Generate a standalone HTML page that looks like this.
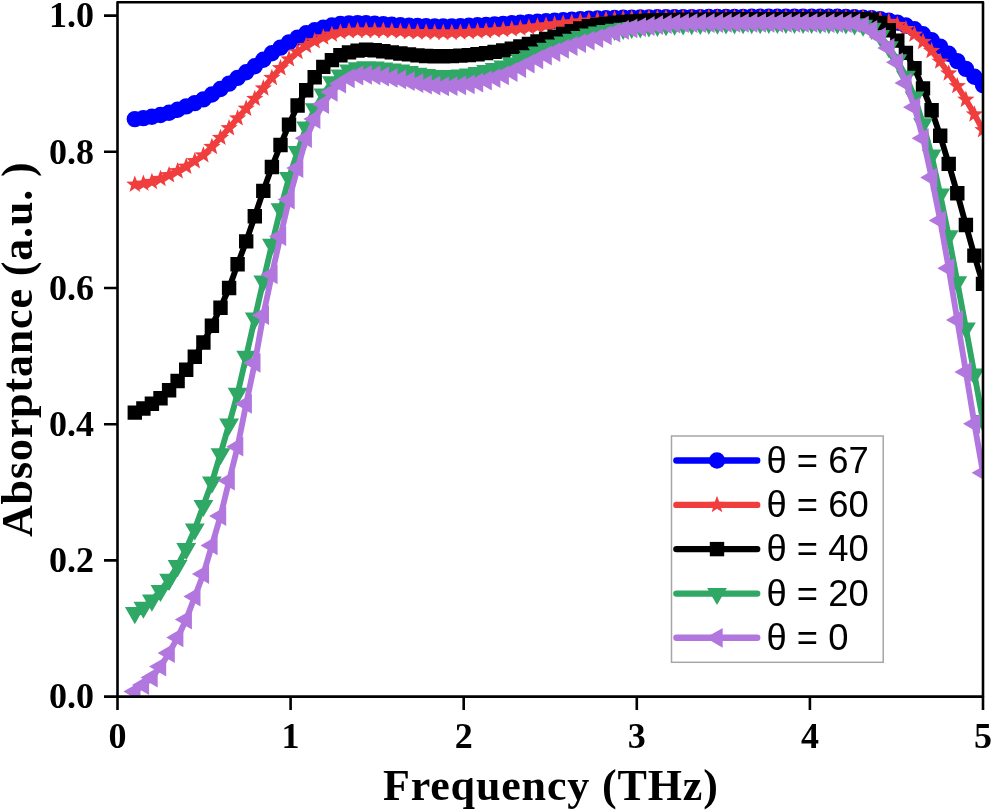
<!DOCTYPE html>
<html lang="en"><head><meta charset="utf-8"><title>Absorptance vs Frequency</title>
<style>
html,body{margin:0;padding:0;background:#fff;}
body{width:991px;height:812px;overflow:hidden;}
svg{display:block;}
.tk{font-family:"Liberation Serif","Times New Roman",serif;font-weight:bold;font-size:36px;fill:#000;}
.ax{font-family:"Liberation Serif","Times New Roman",serif;font-weight:bold;font-size:44px;letter-spacing:0.85px;fill:#000;}
.lg{font-family:"Liberation Sans",Arial,sans-serif;font-size:36.4px;fill:#000;}
</style></head><body>
<svg width="991" height="812" viewBox="0 0 991 812">
<rect width="991" height="812" fill="#fff"/>
<defs><clipPath id="plot"><rect x="117.5" y="2.3" width="865.5" height="694.3000000000001"/></clipPath></defs>
<g clip-path="url(#plot)">
<polyline fill="none" stroke="#0000ff" stroke-width="5.9" stroke-linejoin="round" stroke-linecap="round" points="134.8,119.1 143.4,118.1 151.9,116.8 160.5,115 169.1,112.7 177.6,109.8 186.2,106.4 194.8,103.1 203.4,99.4 211.9,94.5 220.5,89 229.1,83.6 237.6,77.9 246.2,72.2 254.8,66.2 263.3,59.8 271.9,53.3 280.5,47.6 289,42.4 297.6,37.6 306.2,33.3 314.7,30.2 323.3,27.7 331.9,25.5 340.4,24 349,23.4 357.6,23.1 366.1,23.2 374.7,23.7 383.3,24.1 391.8,24.7 400.4,25.3 409,25.7 417.5,26 426.1,26.2 434.7,26.4 443.2,26.5 451.8,26.4 460.4,26.2 468.9,25.8 477.5,25.3 486.1,24.9 494.6,24.4 503.2,23.9 511.8,23.3 520.4,22.8 528.9,22.3 537.5,21.8 546.1,21.3 554.6,20.8 563.2,20.3 571.8,19.8 580.3,19.3 588.9,18.8 597.5,18.5 606,18.2 614.6,18 623.2,17.8 631.7,17.6 640.3,17.5 648.9,17.4 657.4,17.3 666,17.2 674.6,17.2 683.1,17.1 691.7,17.1 700.3,17.1 708.8,17 717.4,17 726,17 734.5,16.9 743.1,16.9 751.7,16.8 760.2,16.8 768.8,16.7 777.4,16.7 785.9,16.7 794.5,16.6 803.1,16.6 811.6,16.6 820.2,16.7 828.8,16.7 837.4,16.8 845.9,17 854.5,17.3 863.1,17.7 871.6,18.3 880.2,19.1 888.8,20.6 897.3,22.6 905.9,25.5 914.5,29.2 923,34.2 931.6,40.1 940.2,46.6 948.7,53.7 957.3,61.1 965.9,68.9 974.4,76.8 983,85.1"/>
<path fill="#0000ff" d="M126.6 119.1a8.2 8.2 0 1 0 16.4 0a8.2 8.2 0 1 0 -16.4 0zM135.2 118.1a8.2 8.2 0 1 0 16.4 0a8.2 8.2 0 1 0 -16.4 0zM143.7 116.8a8.2 8.2 0 1 0 16.4 0a8.2 8.2 0 1 0 -16.4 0zM152.3 115a8.2 8.2 0 1 0 16.4 0a8.2 8.2 0 1 0 -16.4 0zM160.9 112.7a8.2 8.2 0 1 0 16.4 0a8.2 8.2 0 1 0 -16.4 0zM169.4 109.8a8.2 8.2 0 1 0 16.4 0a8.2 8.2 0 1 0 -16.4 0zM178 106.4a8.2 8.2 0 1 0 16.4 0a8.2 8.2 0 1 0 -16.4 0zM186.6 103.1a8.2 8.2 0 1 0 16.4 0a8.2 8.2 0 1 0 -16.4 0zM195.2 99.4a8.2 8.2 0 1 0 16.4 0a8.2 8.2 0 1 0 -16.4 0zM203.7 94.5a8.2 8.2 0 1 0 16.4 0a8.2 8.2 0 1 0 -16.4 0zM212.3 89a8.2 8.2 0 1 0 16.4 0a8.2 8.2 0 1 0 -16.4 0zM220.9 83.6a8.2 8.2 0 1 0 16.4 0a8.2 8.2 0 1 0 -16.4 0zM229.4 77.9a8.2 8.2 0 1 0 16.4 0a8.2 8.2 0 1 0 -16.4 0zM238 72.2a8.2 8.2 0 1 0 16.4 0a8.2 8.2 0 1 0 -16.4 0zM246.6 66.2a8.2 8.2 0 1 0 16.4 0a8.2 8.2 0 1 0 -16.4 0zM255.1 59.8a8.2 8.2 0 1 0 16.4 0a8.2 8.2 0 1 0 -16.4 0zM263.7 53.3a8.2 8.2 0 1 0 16.4 0a8.2 8.2 0 1 0 -16.4 0zM272.3 47.6a8.2 8.2 0 1 0 16.4 0a8.2 8.2 0 1 0 -16.4 0zM280.8 42.4a8.2 8.2 0 1 0 16.4 0a8.2 8.2 0 1 0 -16.4 0zM289.4 37.6a8.2 8.2 0 1 0 16.4 0a8.2 8.2 0 1 0 -16.4 0zM298 33.3a8.2 8.2 0 1 0 16.4 0a8.2 8.2 0 1 0 -16.4 0zM306.5 30.2a8.2 8.2 0 1 0 16.4 0a8.2 8.2 0 1 0 -16.4 0zM315.1 27.7a8.2 8.2 0 1 0 16.4 0a8.2 8.2 0 1 0 -16.4 0zM323.7 25.5a8.2 8.2 0 1 0 16.4 0a8.2 8.2 0 1 0 -16.4 0zM332.2 24a8.2 8.2 0 1 0 16.4 0a8.2 8.2 0 1 0 -16.4 0zM340.8 23.4a8.2 8.2 0 1 0 16.4 0a8.2 8.2 0 1 0 -16.4 0zM349.4 23.1a8.2 8.2 0 1 0 16.4 0a8.2 8.2 0 1 0 -16.4 0zM357.9 23.2a8.2 8.2 0 1 0 16.4 0a8.2 8.2 0 1 0 -16.4 0zM366.5 23.7a8.2 8.2 0 1 0 16.4 0a8.2 8.2 0 1 0 -16.4 0zM375.1 24.1a8.2 8.2 0 1 0 16.4 0a8.2 8.2 0 1 0 -16.4 0zM383.6 24.7a8.2 8.2 0 1 0 16.4 0a8.2 8.2 0 1 0 -16.4 0zM392.2 25.3a8.2 8.2 0 1 0 16.4 0a8.2 8.2 0 1 0 -16.4 0zM400.8 25.7a8.2 8.2 0 1 0 16.4 0a8.2 8.2 0 1 0 -16.4 0zM409.3 26a8.2 8.2 0 1 0 16.4 0a8.2 8.2 0 1 0 -16.4 0zM417.9 26.2a8.2 8.2 0 1 0 16.4 0a8.2 8.2 0 1 0 -16.4 0zM426.5 26.4a8.2 8.2 0 1 0 16.4 0a8.2 8.2 0 1 0 -16.4 0zM435 26.5a8.2 8.2 0 1 0 16.4 0a8.2 8.2 0 1 0 -16.4 0zM443.6 26.4a8.2 8.2 0 1 0 16.4 0a8.2 8.2 0 1 0 -16.4 0zM452.2 26.2a8.2 8.2 0 1 0 16.4 0a8.2 8.2 0 1 0 -16.4 0zM460.7 25.8a8.2 8.2 0 1 0 16.4 0a8.2 8.2 0 1 0 -16.4 0zM469.3 25.3a8.2 8.2 0 1 0 16.4 0a8.2 8.2 0 1 0 -16.4 0zM477.9 24.9a8.2 8.2 0 1 0 16.4 0a8.2 8.2 0 1 0 -16.4 0zM486.4 24.4a8.2 8.2 0 1 0 16.4 0a8.2 8.2 0 1 0 -16.4 0zM495 23.9a8.2 8.2 0 1 0 16.4 0a8.2 8.2 0 1 0 -16.4 0zM503.6 23.3a8.2 8.2 0 1 0 16.4 0a8.2 8.2 0 1 0 -16.4 0zM512.2 22.8a8.2 8.2 0 1 0 16.4 0a8.2 8.2 0 1 0 -16.4 0zM520.7 22.3a8.2 8.2 0 1 0 16.4 0a8.2 8.2 0 1 0 -16.4 0zM529.3 21.8a8.2 8.2 0 1 0 16.4 0a8.2 8.2 0 1 0 -16.4 0zM537.9 21.3a8.2 8.2 0 1 0 16.4 0a8.2 8.2 0 1 0 -16.4 0zM546.4 20.8a8.2 8.2 0 1 0 16.4 0a8.2 8.2 0 1 0 -16.4 0zM555 20.3a8.2 8.2 0 1 0 16.4 0a8.2 8.2 0 1 0 -16.4 0zM563.6 19.8a8.2 8.2 0 1 0 16.4 0a8.2 8.2 0 1 0 -16.4 0zM572.1 19.3a8.2 8.2 0 1 0 16.4 0a8.2 8.2 0 1 0 -16.4 0zM580.7 18.8a8.2 8.2 0 1 0 16.4 0a8.2 8.2 0 1 0 -16.4 0zM589.3 18.5a8.2 8.2 0 1 0 16.4 0a8.2 8.2 0 1 0 -16.4 0zM597.8 18.2a8.2 8.2 0 1 0 16.4 0a8.2 8.2 0 1 0 -16.4 0zM606.4 18a8.2 8.2 0 1 0 16.4 0a8.2 8.2 0 1 0 -16.4 0zM615 17.8a8.2 8.2 0 1 0 16.4 0a8.2 8.2 0 1 0 -16.4 0zM623.5 17.6a8.2 8.2 0 1 0 16.4 0a8.2 8.2 0 1 0 -16.4 0zM632.1 17.5a8.2 8.2 0 1 0 16.4 0a8.2 8.2 0 1 0 -16.4 0zM640.7 17.4a8.2 8.2 0 1 0 16.4 0a8.2 8.2 0 1 0 -16.4 0zM649.2 17.3a8.2 8.2 0 1 0 16.4 0a8.2 8.2 0 1 0 -16.4 0zM657.8 17.2a8.2 8.2 0 1 0 16.4 0a8.2 8.2 0 1 0 -16.4 0zM666.4 17.2a8.2 8.2 0 1 0 16.4 0a8.2 8.2 0 1 0 -16.4 0zM674.9 17.1a8.2 8.2 0 1 0 16.4 0a8.2 8.2 0 1 0 -16.4 0zM683.5 17.1a8.2 8.2 0 1 0 16.4 0a8.2 8.2 0 1 0 -16.4 0zM692.1 17.1a8.2 8.2 0 1 0 16.4 0a8.2 8.2 0 1 0 -16.4 0zM700.6 17a8.2 8.2 0 1 0 16.4 0a8.2 8.2 0 1 0 -16.4 0zM709.2 17a8.2 8.2 0 1 0 16.4 0a8.2 8.2 0 1 0 -16.4 0zM717.8 17a8.2 8.2 0 1 0 16.4 0a8.2 8.2 0 1 0 -16.4 0zM726.3 16.9a8.2 8.2 0 1 0 16.4 0a8.2 8.2 0 1 0 -16.4 0zM734.9 16.9a8.2 8.2 0 1 0 16.4 0a8.2 8.2 0 1 0 -16.4 0zM743.5 16.8a8.2 8.2 0 1 0 16.4 0a8.2 8.2 0 1 0 -16.4 0zM752 16.8a8.2 8.2 0 1 0 16.4 0a8.2 8.2 0 1 0 -16.4 0zM760.6 16.7a8.2 8.2 0 1 0 16.4 0a8.2 8.2 0 1 0 -16.4 0zM769.2 16.7a8.2 8.2 0 1 0 16.4 0a8.2 8.2 0 1 0 -16.4 0zM777.7 16.7a8.2 8.2 0 1 0 16.4 0a8.2 8.2 0 1 0 -16.4 0zM786.3 16.6a8.2 8.2 0 1 0 16.4 0a8.2 8.2 0 1 0 -16.4 0zM794.9 16.6a8.2 8.2 0 1 0 16.4 0a8.2 8.2 0 1 0 -16.4 0zM803.4 16.6a8.2 8.2 0 1 0 16.4 0a8.2 8.2 0 1 0 -16.4 0zM812 16.7a8.2 8.2 0 1 0 16.4 0a8.2 8.2 0 1 0 -16.4 0zM820.6 16.7a8.2 8.2 0 1 0 16.4 0a8.2 8.2 0 1 0 -16.4 0zM829.2 16.8a8.2 8.2 0 1 0 16.4 0a8.2 8.2 0 1 0 -16.4 0zM837.7 17a8.2 8.2 0 1 0 16.4 0a8.2 8.2 0 1 0 -16.4 0zM846.3 17.3a8.2 8.2 0 1 0 16.4 0a8.2 8.2 0 1 0 -16.4 0zM854.9 17.7a8.2 8.2 0 1 0 16.4 0a8.2 8.2 0 1 0 -16.4 0zM863.4 18.3a8.2 8.2 0 1 0 16.4 0a8.2 8.2 0 1 0 -16.4 0zM872 19.1a8.2 8.2 0 1 0 16.4 0a8.2 8.2 0 1 0 -16.4 0zM880.6 20.6a8.2 8.2 0 1 0 16.4 0a8.2 8.2 0 1 0 -16.4 0zM889.1 22.6a8.2 8.2 0 1 0 16.4 0a8.2 8.2 0 1 0 -16.4 0zM897.7 25.5a8.2 8.2 0 1 0 16.4 0a8.2 8.2 0 1 0 -16.4 0zM906.3 29.2a8.2 8.2 0 1 0 16.4 0a8.2 8.2 0 1 0 -16.4 0zM914.8 34.2a8.2 8.2 0 1 0 16.4 0a8.2 8.2 0 1 0 -16.4 0zM923.4 40.1a8.2 8.2 0 1 0 16.4 0a8.2 8.2 0 1 0 -16.4 0zM932 46.6a8.2 8.2 0 1 0 16.4 0a8.2 8.2 0 1 0 -16.4 0zM940.5 53.7a8.2 8.2 0 1 0 16.4 0a8.2 8.2 0 1 0 -16.4 0zM949.1 61.1a8.2 8.2 0 1 0 16.4 0a8.2 8.2 0 1 0 -16.4 0zM957.7 68.9a8.2 8.2 0 1 0 16.4 0a8.2 8.2 0 1 0 -16.4 0zM966.2 76.8a8.2 8.2 0 1 0 16.4 0a8.2 8.2 0 1 0 -16.4 0zM974.8 85.1a8.2 8.2 0 1 0 16.4 0a8.2 8.2 0 1 0 -16.4 0z"/>
<polyline fill="none" stroke="#f03e3e" stroke-width="5.9" stroke-linejoin="round" stroke-linecap="round" points="134.8,184.5 143.4,183.5 151.9,181.8 160.5,178.8 169.1,175.1 177.6,171.1 186.2,166.6 194.8,161.1 203.4,155.3 211.9,146.8 220.5,137.8 229.1,128.1 237.6,118.3 246.2,108.6 254.8,98.8 263.3,88.3 271.9,77.8 280.5,68.1 289,59.2 297.6,52 306.2,45.9 314.7,41.2 323.3,37.4 331.9,34.5 340.4,32.3 349,31.2 357.6,30.6 366.1,30.6 374.7,30.6 383.3,30.7 391.8,31 400.4,31.5 409,31.9 417.5,32.1 426.1,32.3 434.7,32.5 443.2,32.6 451.8,32.6 460.4,32.3 468.9,31.9 477.5,31.4 486.1,31 494.6,30.5 503.2,29.9 511.8,29.2 520.4,28.4 528.9,27.4 537.5,26.3 546.1,25.3 554.6,24.3 563.2,23.3 571.8,22.4 580.3,21.4 588.9,20.6 597.5,20 606,19.5 614.6,19.1 623.2,18.8 631.7,18.5 640.3,18.2 648.9,18 657.4,18 666,17.9 674.6,17.8 683.1,17.8 691.7,17.7 700.3,17.7 708.8,17.7 717.4,17.6 726,17.6 734.5,17.6 743.1,17.6 751.7,17.6 760.2,17.6 768.8,17.6 777.4,17.6 785.9,17.6 794.5,17.6 803.1,17.6 811.6,17.6 820.2,17.6 828.8,17.6 837.4,17.6 845.9,17.6 854.5,17.8 863.1,18 871.6,18.7 880.2,19.8 888.8,21.9 897.3,24.8 905.9,29 914.5,34.5 923,41.9 931.6,50.9 940.2,61.5 948.7,73.3 957.3,86 965.9,99.7 974.4,114.3 983,130"/>
<path fill="#f03e3e" d="M134.8 175.4L137.1 181.4L143.5 181.7L138.4 185.7L140.2 191.9L134.8 188.3L129.5 191.9L131.2 185.7L126.2 181.7L132.6 181.4zM143.4 174.4L145.6 180.4L152 180.7L147 184.7L148.7 190.8L143.4 187.3L138 190.8L139.7 184.7L134.7 180.7L141.1 180.4zM151.9 172.7L154.2 178.7L160.6 179L155.6 183L157.3 189.2L151.9 185.6L146.6 189.2L148.3 183L143.3 179L149.7 178.7zM160.5 169.7L162.8 175.7L169.2 176L164.1 180L165.9 186.2L160.5 182.6L155.2 186.2L156.9 180L151.9 176L158.3 175.7zM169.1 166L171.3 172L177.7 172.3L172.7 176.3L174.4 182.5L169.1 178.9L163.7 182.5L165.4 176.3L160.4 172.3L166.8 172zM177.6 162L179.9 168L186.3 168.3L181.3 172.3L183 178.4L177.6 174.9L172.3 178.4L174 172.3L169 168.3L175.4 168zM186.2 157.5L188.5 163.5L194.9 163.8L189.9 167.8L191.6 174L186.2 170.4L180.9 174L182.6 167.8L177.6 163.8L184 163.5zM194.8 152L197 158L203.4 158.3L198.4 162.2L200.1 168.4L194.8 164.9L189.4 168.4L191.1 162.2L186.1 158.3L192.5 158zM203.4 146.2L205.6 152.2L212 152.5L207 156.5L208.7 162.6L203.4 159.1L198 162.6L199.7 156.5L194.7 152.5L201.1 152.2zM211.9 137.7L214.2 143.7L220.6 144L215.6 148L217.3 154.2L211.9 150.7L206.6 154.2L208.3 148L203.3 144L209.7 143.7zM220.5 128.7L222.7 134.7L229.1 135L224.1 139L225.8 145.1L220.5 141.6L215.1 145.1L216.9 139L211.8 135L218.2 134.7zM229.1 119L231.3 125.1L237.7 125.3L232.7 129.3L234.4 135.5L229.1 132L223.7 135.5L225.4 129.3L220.4 125.3L226.8 125.1zM237.6 109.2L239.9 115.2L246.3 115.5L241.3 119.4L243 125.6L237.6 122.1L232.3 125.6L234 119.4L229 115.5L235.4 115.2zM246.2 99.5L248.4 105.5L254.8 105.7L249.8 109.7L251.5 115.9L246.2 112.4L240.8 115.9L242.6 109.7L237.5 105.7L243.9 105.5zM254.8 89.7L257 95.7L263.4 95.9L258.4 99.9L260.1 106.1L254.8 102.6L249.4 106.1L251.1 99.9L246.1 95.9L252.5 95.7zM263.3 79.2L265.6 85.2L272 85.5L267 89.5L268.7 95.7L263.3 92.1L258 95.7L259.7 89.5L254.7 85.5L261.1 85.2zM271.9 68.7L274.1 74.7L280.5 75L275.5 79L277.2 85.2L271.9 81.6L266.5 85.2L268.3 79L263.2 75L269.6 74.7zM280.5 59L282.7 65L289.1 65.3L284.1 69.3L285.8 75.5L280.5 71.9L275.1 75.5L276.8 69.3L271.8 65.3L278.2 65zM289 50.1L291.3 56.2L297.7 56.4L292.7 60.4L294.4 66.6L289 63.1L283.7 66.6L285.4 60.4L280.4 56.4L286.8 56.2zM297.6 42.9L299.8 48.9L306.2 49.2L301.2 53.2L302.9 59.3L297.6 55.8L292.2 59.3L294 53.2L288.9 49.2L295.3 48.9zM306.2 36.8L308.4 42.8L314.8 43.1L309.8 47.1L311.5 53.3L306.2 49.8L300.8 53.3L302.5 47.1L297.5 43.1L303.9 42.8zM314.7 32.1L317 38.1L323.4 38.4L318.4 42.4L320.1 48.6L314.7 45L309.4 48.6L311.1 42.4L306.1 38.4L312.5 38.1zM323.3 28.3L325.5 34.3L332 34.6L326.9 38.6L328.6 44.8L323.3 41.2L317.9 44.8L319.7 38.6L314.6 34.6L321.1 34.3zM331.9 25.4L334.1 31.4L340.5 31.6L335.5 35.6L337.2 41.8L331.9 38.3L326.5 41.8L328.2 35.6L323.2 31.6L329.6 31.4zM340.4 23.2L342.7 29.2L349.1 29.4L344.1 33.4L345.8 39.6L340.4 36.1L335.1 39.6L336.8 33.4L331.8 29.4L338.2 29.2zM349 22.1L351.2 28.1L357.7 28.4L352.6 32.4L354.3 38.6L349 35L343.7 38.6L345.4 32.4L340.3 28.4L346.8 28.1zM357.6 21.5L359.8 27.5L366.2 27.8L361.2 31.8L362.9 38L357.6 34.4L352.2 38L353.9 31.8L348.9 27.8L355.3 27.5zM366.1 21.5L368.4 27.5L374.8 27.8L369.8 31.8L371.5 37.9L366.1 34.4L360.8 37.9L362.5 31.8L357.5 27.8L363.9 27.5zM374.7 21.5L376.9 27.5L383.4 27.8L378.3 31.8L380.1 37.9L374.7 34.4L369.4 37.9L371.1 31.8L366 27.8L372.5 27.5zM383.3 21.6L385.5 27.6L391.9 27.9L386.9 31.9L388.6 38L383.3 34.5L377.9 38L379.6 31.9L374.6 27.9L381 27.6zM391.8 21.9L394.1 27.9L400.5 28.2L395.5 32.2L397.2 38.4L391.8 34.8L386.5 38.4L388.2 32.2L383.2 28.2L389.6 27.9zM400.4 22.4L402.7 28.4L409.1 28.7L404 32.6L405.8 38.8L400.4 35.3L395.1 38.8L396.8 32.6L391.8 28.7L398.2 28.4zM409 22.8L411.2 28.8L417.6 29L412.6 33L414.3 39.2L409 35.7L403.6 39.2L405.3 33L400.3 29L406.7 28.8zM417.5 23L419.8 29L426.2 29.3L421.2 33.3L422.9 39.5L417.5 35.9L412.2 39.5L413.9 33.3L408.9 29.3L415.3 29zM426.1 23.2L428.4 29.2L434.8 29.5L429.7 33.5L431.5 39.7L426.1 36.1L420.8 39.7L422.5 33.5L417.5 29.5L423.9 29.2zM434.7 23.4L436.9 29.4L443.3 29.7L438.3 33.7L440 39.9L434.7 36.3L429.3 39.9L431 33.7L426 29.7L432.4 29.4zM443.2 23.5L445.5 29.5L451.9 29.8L446.9 33.8L448.6 40L443.2 36.4L437.9 40L439.6 33.8L434.6 29.8L441 29.5zM451.8 23.5L454.1 29.5L460.5 29.8L455.4 33.8L457.2 39.9L451.8 36.4L446.5 39.9L448.2 33.8L443.2 29.8L449.6 29.5zM460.4 23.2L462.6 29.2L469 29.5L464 33.5L465.7 39.7L460.4 36.1L455 39.7L456.7 33.5L451.7 29.5L458.1 29.2zM468.9 22.8L471.2 28.8L477.6 29.1L472.6 33.1L474.3 39.3L468.9 35.7L463.6 39.3L465.3 33.1L460.3 29.1L466.7 28.8zM477.5 22.3L479.8 28.4L486.2 28.6L481.1 32.6L482.9 38.8L477.5 35.3L472.2 38.8L473.9 32.6L468.9 28.6L475.3 28.4zM486.1 21.9L488.3 27.9L494.7 28.2L489.7 32.2L491.4 38.4L486.1 34.8L480.7 38.4L482.4 32.2L477.4 28.2L483.8 27.9zM494.6 21.4L496.9 27.4L503.3 27.7L498.3 31.7L500 37.8L494.6 34.3L489.3 37.8L491 31.7L486 27.7L492.4 27.4zM503.2 20.8L505.5 26.8L511.9 27.1L506.9 31.1L508.6 37.2L503.2 33.7L497.9 37.2L499.6 31.1L494.6 27.1L501 26.8zM511.8 20.1L514 26.1L520.4 26.4L515.4 30.4L517.1 36.6L511.8 33L506.4 36.6L508.1 30.4L503.1 26.4L509.5 26.1zM520.4 19.3L522.6 25.3L529 25.6L524 29.6L525.7 35.8L520.4 32.2L515 35.8L516.7 29.6L511.7 25.6L518.1 25.3zM528.9 18.3L531.2 24.3L537.6 24.6L532.6 28.6L534.3 34.8L528.9 31.3L523.6 34.8L525.3 28.6L520.3 24.6L526.7 24.3zM537.5 17.2L539.7 23.2L546.1 23.5L541.1 27.5L542.8 33.7L537.5 30.2L532.1 33.7L533.9 27.5L528.8 23.5L535.2 23.2zM546.1 16.2L548.3 22.2L554.7 22.5L549.7 26.5L551.4 32.6L546.1 29.1L540.7 32.6L542.4 26.5L537.4 22.5L543.8 22.2zM554.6 15.2L556.9 21.2L563.3 21.5L558.3 25.5L560 31.7L554.6 28.1L549.3 31.7L551 25.5L546 21.5L552.4 21.2zM563.2 14.2L565.4 20.2L571.8 20.5L566.8 24.5L568.5 30.7L563.2 27.2L557.8 30.7L559.6 24.5L554.5 20.5L560.9 20.2zM571.8 13.3L574 19.3L580.4 19.5L575.4 23.5L577.1 29.7L571.8 26.2L566.4 29.7L568.1 23.5L563.1 19.5L569.5 19.3zM580.3 12.3L582.6 18.3L589 18.6L584 22.6L585.7 28.8L580.3 25.2L575 28.8L576.7 22.6L571.7 18.6L578.1 18.3zM588.9 11.5L591.1 17.5L597.5 17.8L592.5 21.8L594.2 28L588.9 24.4L583.5 28L585.3 21.8L580.2 17.8L586.6 17.5zM597.5 10.9L599.7 16.9L606.1 17.1L601.1 21.1L602.8 27.3L597.5 23.8L592.1 27.3L593.8 21.1L588.8 17.1L595.2 16.9zM606 10.4L608.3 16.4L614.7 16.7L609.7 20.7L611.4 26.9L606 23.3L600.7 26.9L602.4 20.7L597.4 16.7L603.8 16.4zM614.6 10L616.8 16L623.2 16.3L618.2 20.3L619.9 26.5L614.6 22.9L609.2 26.5L611 20.3L605.9 16.3L612.3 16zM623.2 9.7L625.4 15.7L631.8 15.9L626.8 19.9L628.5 26.1L623.2 22.6L617.8 26.1L619.5 19.9L614.5 15.9L620.9 15.7zM631.7 9.4L634 15.4L640.4 15.6L635.4 19.6L637.1 25.8L631.7 22.3L626.4 25.8L628.1 19.6L623.1 15.6L629.5 15.4zM640.3 9.1L642.5 15.1L649 15.4L643.9 19.4L645.6 25.6L640.3 22L634.9 25.6L636.7 19.4L631.6 15.4L638.1 15.1zM648.9 8.9L651.1 15L657.5 15.2L652.5 19.2L654.2 25.4L648.9 21.9L643.5 25.4L645.2 19.2L640.2 15.2L646.6 15zM657.4 8.9L659.7 14.9L666.1 15.1L661.1 19.1L662.8 25.3L657.4 21.8L652.1 25.3L653.8 19.1L648.8 15.1L655.2 14.9zM666 8.8L668.2 14.8L674.7 15.1L669.6 19.1L671.3 25.2L666 21.7L660.7 25.2L662.4 19.1L657.3 15.1L663.8 14.8zM674.6 8.7L676.8 14.7L683.2 15L678.2 19L679.9 25.2L674.6 21.6L669.2 25.2L670.9 19L665.9 15L672.3 14.7zM683.1 8.7L685.4 14.7L691.8 15L686.8 18.9L688.5 25.1L683.1 21.6L677.8 25.1L679.5 18.9L674.5 15L680.9 14.7zM691.7 8.6L693.9 14.6L700.4 14.9L695.3 18.9L697.1 25.1L691.7 21.5L686.4 25.1L688.1 18.9L683 14.9L689.5 14.6zM700.3 8.6L702.5 14.6L708.9 14.9L703.9 18.9L705.6 25L700.3 21.5L694.9 25L696.6 18.9L691.6 14.9L698 14.6zM708.8 8.6L711.1 14.6L717.5 14.8L712.5 18.8L714.2 25L708.8 21.5L703.5 25L705.2 18.8L700.2 14.8L706.6 14.6zM717.4 8.5L719.7 14.6L726.1 14.8L721 18.8L722.8 25L717.4 21.5L712.1 25L713.8 18.8L708.8 14.8L715.2 14.6zM726 8.5L728.2 14.6L734.6 14.8L729.6 18.8L731.3 25L726 21.5L720.6 25L722.3 18.8L717.3 14.8L723.7 14.6zM734.5 8.5L736.8 14.6L743.2 14.8L738.2 18.8L739.9 25L734.5 21.5L729.2 25L730.9 18.8L725.9 14.8L732.3 14.6zM743.1 8.5L745.4 14.6L751.8 14.8L746.7 18.8L748.5 25L743.1 21.5L737.8 25L739.5 18.8L734.5 14.8L740.9 14.6zM751.7 8.5L753.9 14.6L760.3 14.8L755.3 18.8L757 25L751.7 21.5L746.3 25L748 18.8L743 14.8L749.4 14.6zM760.2 8.5L762.5 14.6L768.9 14.8L763.9 18.8L765.6 25L760.2 21.5L754.9 25L756.6 18.8L751.6 14.8L758 14.6zM768.8 8.5L771.1 14.6L777.5 14.8L772.4 18.8L774.2 25L768.8 21.5L763.5 25L765.2 18.8L760.2 14.8L766.6 14.6zM777.4 8.5L779.6 14.6L786 14.8L781 18.8L782.7 25L777.4 21.5L772 25L773.7 18.8L768.7 14.8L775.1 14.6zM785.9 8.5L788.2 14.6L794.6 14.8L789.6 18.8L791.3 25L785.9 21.5L780.6 25L782.3 18.8L777.3 14.8L783.7 14.6zM794.5 8.5L796.8 14.6L803.2 14.8L798.1 18.8L799.9 25L794.5 21.5L789.2 25L790.9 18.8L785.9 14.8L792.3 14.6zM803.1 8.5L805.3 14.6L811.7 14.8L806.7 18.8L808.4 25L803.1 21.5L797.7 25L799.4 18.8L794.4 14.8L800.8 14.6zM811.6 8.5L813.9 14.6L820.3 14.8L815.3 18.8L817 25L811.6 21.5L806.3 25L808 18.8L803 14.8L809.4 14.6zM820.2 8.5L822.5 14.6L828.9 14.8L823.9 18.8L825.6 25L820.2 21.5L814.9 25L816.6 18.8L811.6 14.8L818 14.6zM828.8 8.5L831 14.6L837.4 14.8L832.4 18.8L834.1 25L828.8 21.5L823.4 25L825.1 18.8L820.1 14.8L826.5 14.6zM837.4 8.5L839.6 14.6L846 14.8L841 18.8L842.7 25L837.4 21.5L832 25L833.7 18.8L828.7 14.8L835.1 14.6zM845.9 8.5L848.2 14.6L854.6 14.8L849.6 18.8L851.3 25L845.9 21.5L840.6 25L842.3 18.8L837.3 14.8L843.7 14.6zM854.5 8.7L856.7 14.7L863.1 15L858.1 19L859.8 25.1L854.5 21.6L849.1 25.1L850.9 19L845.8 15L852.2 14.7zM863.1 8.9L865.3 14.9L871.7 15.2L866.7 19.2L868.4 25.4L863.1 21.9L857.7 25.4L859.4 19.2L854.4 15.2L860.8 14.9zM871.6 9.6L873.9 15.6L880.3 15.9L875.3 19.9L877 26.1L871.6 22.5L866.3 26.1L868 19.9L863 15.9L869.4 15.6zM880.2 10.7L882.4 16.8L888.8 17L883.8 21L885.5 27.2L880.2 23.7L874.8 27.2L876.6 21L871.5 17L877.9 16.8zM888.8 12.8L891 18.8L897.4 19.1L892.4 23L894.1 29.2L888.8 25.7L883.4 29.2L885.1 23L880.1 19.1L886.5 18.8zM897.3 15.7L899.6 21.7L906 22L901 26L902.7 32.1L897.3 28.6L892 32.1L893.7 26L888.7 22L895.1 21.7zM905.9 19.9L908.1 25.9L914.5 26.1L909.5 30.1L911.2 36.3L905.9 32.8L900.5 36.3L902.3 30.1L897.2 26.1L903.6 25.9zM914.5 25.4L916.7 31.4L923.1 31.7L918.1 35.7L919.8 41.8L914.5 38.3L909.1 41.8L910.8 35.7L905.8 31.7L912.2 31.4zM923 32.8L925.3 38.8L931.7 39.1L926.7 43.1L928.4 49.3L923 45.7L917.7 49.3L919.4 43.1L914.4 39.1L920.8 38.8zM931.6 41.8L933.8 47.8L940.2 48.1L935.2 52.1L936.9 58.3L931.6 54.7L926.2 58.3L928 52.1L922.9 48.1L929.3 47.8zM940.2 52.4L942.4 58.4L948.8 58.7L943.8 62.7L945.5 68.8L940.2 65.3L934.8 68.8L936.5 62.7L931.5 58.7L937.9 58.4zM948.7 64.2L951 70.2L957.4 70.5L952.4 74.5L954.1 80.7L948.7 77.1L943.4 80.7L945.1 74.5L940.1 70.5L946.5 70.2zM957.3 76.9L959.5 82.9L966 83.2L960.9 87.2L962.6 93.3L957.3 89.8L951.9 93.3L953.7 87.2L948.6 83.2L955.1 82.9zM965.9 90.6L968.1 96.6L974.5 96.8L969.5 100.8L971.2 107L965.9 103.5L960.5 107L962.2 100.8L957.2 96.8L963.6 96.6zM974.4 105.2L976.7 111.2L983.1 111.5L978.1 115.5L979.8 121.7L974.4 118.1L969.1 121.7L970.8 115.5L965.8 111.5L972.2 111.2zM983 120.9L985.2 126.9L991.7 127.2L986.6 131.2L988.3 137.4L983 133.8L977.7 137.4L979.4 131.2L974.3 127.2L980.8 126.9z"/>
<polyline fill="none" stroke="#000000" stroke-width="5.9" stroke-linejoin="round" stroke-linecap="round" points="134.8,412.6 143.4,408.5 151.9,403.8 160.5,398.3 169.1,390.2 177.6,381 186.2,369.7 194.8,356.8 203.4,342.5 211.9,325.8 220.5,307.7 229.1,288 237.6,264.2 246.2,241.4 254.8,216.2 263.3,190.9 271.9,167 280.5,145 289,124.6 297.6,105.5 306.2,90.2 314.7,77.3 323.3,66.9 331.9,60.1 340.4,55.2 349,52.4 357.6,50.6 366.1,49.8 374.7,50.2 383.3,51.2 391.8,52.4 400.4,53.5 409,54.4 417.5,55.4 426.1,56 434.7,56.3 443.2,56.3 451.8,56.1 460.4,55.6 468.9,55.1 477.5,54.2 486.1,53.1 494.6,51.9 503.2,50.5 511.8,48.6 520.4,46.4 528.9,44 537.5,41.4 546.1,39 554.6,36.6 563.2,33.9 571.8,31.2 580.3,28.5 588.9,26.3 597.5,24.6 606,23.6 614.6,22.8 623.2,22 631.7,21.4 640.3,20.9 648.9,20.5 657.4,20.3 666,20.1 674.6,19.9 683.1,19.8 691.7,19.7 700.3,19.6 708.8,19.5 717.4,19.4 726,19.4 734.5,19.3 743.1,19.3 751.7,19.2 760.2,19.2 768.8,19.2 777.4,19.1 785.9,19.1 794.5,19.1 803.1,19.1 811.6,19 820.2,19 828.8,19 837.4,19 845.9,19 854.5,19.1 863.1,19.3 871.6,19.8 880.2,22.9 888.8,30.2 897.3,40.6 905.9,52.9 914.5,68.1 923,88.4 931.6,110.3 940.2,135.8 948.7,163.9 957.3,193.3 965.9,225 974.4,255.6 983,283.9"/>
<path fill="#000000" d="M127.6 405.4h14.4v14.4h-14.4zM136.2 401.3h14.4v14.4h-14.4zM144.7 396.6h14.4v14.4h-14.4zM153.3 391.1h14.4v14.4h-14.4zM161.9 383h14.4v14.4h-14.4zM170.4 373.8h14.4v14.4h-14.4zM179 362.5h14.4v14.4h-14.4zM187.6 349.6h14.4v14.4h-14.4zM196.2 335.3h14.4v14.4h-14.4zM204.7 318.6h14.4v14.4h-14.4zM213.3 300.5h14.4v14.4h-14.4zM221.9 280.8h14.4v14.4h-14.4zM230.4 257h14.4v14.4h-14.4zM239 234.2h14.4v14.4h-14.4zM247.6 209h14.4v14.4h-14.4zM256.1 183.7h14.4v14.4h-14.4zM264.7 159.8h14.4v14.4h-14.4zM273.3 137.8h14.4v14.4h-14.4zM281.8 117.4h14.4v14.4h-14.4zM290.4 98.3h14.4v14.4h-14.4zM299 83h14.4v14.4h-14.4zM307.5 70.1h14.4v14.4h-14.4zM316.1 59.7h14.4v14.4h-14.4zM324.7 52.9h14.4v14.4h-14.4zM333.2 48h14.4v14.4h-14.4zM341.8 45.2h14.4v14.4h-14.4zM350.4 43.4h14.4v14.4h-14.4zM358.9 42.6h14.4v14.4h-14.4zM367.5 43h14.4v14.4h-14.4zM376.1 44h14.4v14.4h-14.4zM384.6 45.2h14.4v14.4h-14.4zM393.2 46.3h14.4v14.4h-14.4zM401.8 47.2h14.4v14.4h-14.4zM410.3 48.2h14.4v14.4h-14.4zM418.9 48.8h14.4v14.4h-14.4zM427.5 49.1h14.4v14.4h-14.4zM436 49.1h14.4v14.4h-14.4zM444.6 48.9h14.4v14.4h-14.4zM453.2 48.4h14.4v14.4h-14.4zM461.7 47.9h14.4v14.4h-14.4zM470.3 47h14.4v14.4h-14.4zM478.9 45.9h14.4v14.4h-14.4zM487.4 44.7h14.4v14.4h-14.4zM496 43.3h14.4v14.4h-14.4zM504.6 41.4h14.4v14.4h-14.4zM513.2 39.2h14.4v14.4h-14.4zM521.7 36.8h14.4v14.4h-14.4zM530.3 34.2h14.4v14.4h-14.4zM538.9 31.8h14.4v14.4h-14.4zM547.4 29.4h14.4v14.4h-14.4zM556 26.7h14.4v14.4h-14.4zM564.6 24h14.4v14.4h-14.4zM573.1 21.3h14.4v14.4h-14.4zM581.7 19.1h14.4v14.4h-14.4zM590.3 17.4h14.4v14.4h-14.4zM598.8 16.4h14.4v14.4h-14.4zM607.4 15.6h14.4v14.4h-14.4zM616 14.8h14.4v14.4h-14.4zM624.5 14.2h14.4v14.4h-14.4zM633.1 13.7h14.4v14.4h-14.4zM641.7 13.3h14.4v14.4h-14.4zM650.2 13.1h14.4v14.4h-14.4zM658.8 12.9h14.4v14.4h-14.4zM667.4 12.7h14.4v14.4h-14.4zM675.9 12.6h14.4v14.4h-14.4zM684.5 12.5h14.4v14.4h-14.4zM693.1 12.4h14.4v14.4h-14.4zM701.6 12.3h14.4v14.4h-14.4zM710.2 12.2h14.4v14.4h-14.4zM718.8 12.2h14.4v14.4h-14.4zM727.3 12.1h14.4v14.4h-14.4zM735.9 12.1h14.4v14.4h-14.4zM744.5 12h14.4v14.4h-14.4zM753 12h14.4v14.4h-14.4zM761.6 12h14.4v14.4h-14.4zM770.2 11.9h14.4v14.4h-14.4zM778.7 11.9h14.4v14.4h-14.4zM787.3 11.9h14.4v14.4h-14.4zM795.9 11.9h14.4v14.4h-14.4zM804.4 11.8h14.4v14.4h-14.4zM813 11.8h14.4v14.4h-14.4zM821.6 11.8h14.4v14.4h-14.4zM830.2 11.8h14.4v14.4h-14.4zM838.7 11.8h14.4v14.4h-14.4zM847.3 11.9h14.4v14.4h-14.4zM855.9 12.1h14.4v14.4h-14.4zM864.4 12.6h14.4v14.4h-14.4zM873 15.7h14.4v14.4h-14.4zM881.6 23h14.4v14.4h-14.4zM890.1 33.4h14.4v14.4h-14.4zM898.7 45.7h14.4v14.4h-14.4zM907.3 60.9h14.4v14.4h-14.4zM915.8 81.2h14.4v14.4h-14.4zM924.4 103.1h14.4v14.4h-14.4zM933 128.6h14.4v14.4h-14.4zM941.5 156.7h14.4v14.4h-14.4zM950.1 186.1h14.4v14.4h-14.4zM958.7 217.8h14.4v14.4h-14.4zM967.2 248.4h14.4v14.4h-14.4zM975.8 276.7h14.4v14.4h-14.4z"/>
<polyline fill="none" stroke="#2fa765" stroke-width="5.9" stroke-linejoin="round" stroke-linecap="round" points="134.8,612.8 143.4,607.4 151.9,600.2 160.5,590.7 169.1,579.5 177.6,565.8 186.2,548.8 194.8,529.1 203.4,505.6 211.9,482.3 220.5,453.9 229.1,424.2 237.6,393.6 246.2,356.4 254.8,318.3 263.3,281.2 271.9,244.4 280.5,209 289,177.7 297.6,151.8 306.2,127.3 314.7,108.9 323.3,94.1 331.9,82 340.4,75.1 349,70.1 357.6,68 366.1,67 374.7,67.3 383.3,68.1 391.8,69.2 400.4,70.3 409,71.7 417.5,73.4 426.1,74.8 434.7,75.8 443.2,76.2 451.8,75.8 460.4,75.1 468.9,74.2 477.5,72.8 486.1,70.8 494.6,68.6 503.2,66.2 511.8,63.2 520.4,59.7 528.9,55.9 537.5,52.1 546.1,48.5 554.6,45.3 563.2,42.3 571.8,39.5 580.3,36.8 588.9,34.2 597.5,32.1 606,30.6 614.6,29.5 623.2,28.5 631.7,27.7 640.3,26.9 648.9,26.2 657.4,25.5 666,24.9 674.6,24.4 683.1,24 691.7,23.7 700.3,23.6 708.8,23.4 717.4,23.3 726,23.1 734.5,23 743.1,22.9 751.7,22.8 760.2,22.7 768.8,22.7 777.4,22.6 785.9,22.6 794.5,22.6 803.1,22.6 811.6,22.7 820.2,22.7 828.8,22.8 837.4,23 845.9,23.1 854.5,23.9 863.1,25.4 871.6,28.4 880.2,35.7 888.8,46.9 897.3,60 905.9,76.5 914.5,97.2 923,123.9 931.6,155.3 940.2,194.4 948.7,236 957.3,281.9 965.9,328.1 974.4,374.3 983,420.8"/>
<path fill="#2fa765" d="M124.9 607.1L144.7 607.1L134.8 624.3zM133.5 601.7L153.3 601.7L143.4 618.8zM142 594.5L161.8 594.5L151.9 611.7zM150.6 585L170.4 585L160.5 602.1zM159.2 573.8L179 573.8L169.1 590.9zM167.7 560.1L187.5 560.1L177.6 577.3zM176.3 543.1L196.1 543.1L186.2 560.3zM184.9 523.4L204.7 523.4L194.8 540.5zM193.5 499.9L213.3 499.9L203.4 517zM202 476.6L221.8 476.6L211.9 493.7zM210.6 448.2L230.4 448.2L220.5 465.3zM219.2 418.5L239 418.5L229.1 435.6zM227.7 387.8L247.5 387.8L237.6 405zM236.3 350.7L256.1 350.7L246.2 367.9zM244.9 312.6L264.7 312.6L254.8 329.7zM253.4 275.5L273.2 275.5L263.3 292.6zM262 238.7L281.8 238.7L271.9 255.8zM270.6 203.3L290.4 203.3L280.5 220.4zM279.1 172L298.9 172L289 189.1zM287.7 146.1L307.5 146.1L297.6 163.2zM296.3 121.6L316.1 121.6L306.2 138.7zM304.8 103.2L324.6 103.2L314.7 120.3zM313.4 88.4L333.2 88.4L323.3 105.6zM322 76.3L341.8 76.3L331.9 93.4zM330.5 69.4L350.3 69.4L340.4 86.6zM339.1 64.4L358.9 64.4L349 81.5zM347.7 62.3L367.5 62.3L357.6 79.5zM356.2 61.3L376 61.3L366.1 78.4zM364.8 61.6L384.6 61.6L374.7 78.8zM373.4 62.4L393.2 62.4L383.3 79.6zM381.9 63.5L401.7 63.5L391.8 80.6zM390.5 64.6L410.3 64.6L400.4 81.7zM399.1 66L418.9 66L409 83.1zM407.6 67.7L427.4 67.7L417.5 84.8zM416.2 69.1L436 69.1L426.1 86.3zM424.8 70.1L444.6 70.1L434.7 87.2zM433.3 70.5L453.1 70.5L443.2 87.6zM441.9 70.1L461.7 70.1L451.8 87.3zM450.5 69.4L470.3 69.4L460.4 86.6zM459 68.5L478.8 68.5L468.9 85.7zM467.6 67.1L487.4 67.1L477.5 84.2zM476.2 65.1L496 65.1L486.1 82.3zM484.7 62.9L504.5 62.9L494.6 80.1zM493.3 60.5L513.1 60.5L503.2 77.7zM501.9 57.5L521.7 57.5L511.8 74.7zM510.5 54L530.3 54L520.4 71.2zM519 50.2L538.8 50.2L528.9 67.4zM527.6 46.4L547.4 46.4L537.5 63.6zM536.2 42.8L556 42.8L546.1 60zM544.7 39.6L564.5 39.6L554.6 56.8zM553.3 36.6L573.1 36.6L563.2 53.7zM561.9 33.7L581.7 33.7L571.8 50.9zM570.4 31.1L590.2 31.1L580.3 48.2zM579 28.5L598.8 28.5L588.9 45.7zM587.6 26.4L607.4 26.4L597.5 43.5zM596.1 24.9L615.9 24.9L606 42zM604.7 23.7L624.5 23.7L614.6 40.9zM613.3 22.8L633.1 22.8L623.2 39.9zM621.8 22L641.6 22L631.7 39.1zM630.4 21.2L650.2 21.2L640.3 38.4zM639 20.5L658.8 20.5L648.9 37.6zM647.5 19.8L667.3 19.8L657.4 36.9zM656.1 19.2L675.9 19.2L666 36.3zM664.7 18.7L684.5 18.7L674.6 35.8zM673.2 18.3L693 18.3L683.1 35.4zM681.8 18L701.6 18L691.7 35.2zM690.4 17.9L710.2 17.9L700.3 35zM698.9 17.7L718.7 17.7L708.8 34.8zM707.5 17.5L727.3 17.5L717.4 34.7zM716.1 17.4L735.9 17.4L726 34.6zM724.6 17.3L744.4 17.3L734.5 34.4zM733.2 17.2L753 17.2L743.1 34.3zM741.8 17.1L761.6 17.1L751.7 34.2zM750.3 17L770.1 17L760.2 34.2zM758.9 17L778.7 17L768.8 34.1zM767.5 16.9L787.3 16.9L777.4 34.1zM776 16.9L795.8 16.9L785.9 34zM784.6 16.9L804.4 16.9L794.5 34zM793.2 16.9L813 16.9L803.1 34.1zM801.7 17L821.5 17L811.6 34.1zM810.3 17L830.1 17L820.2 34.2zM818.9 17.1L838.7 17.1L828.8 34.3zM827.5 17.2L847.3 17.2L837.4 34.4zM836 17.4L855.8 17.4L845.9 34.6zM844.6 18.2L864.4 18.2L854.5 35.4zM853.2 19.7L873 19.7L863.1 36.8zM861.7 22.7L881.5 22.7L871.6 39.9zM870.3 30L890.1 30L880.2 47.2zM878.9 41.2L898.7 41.2L888.8 58.3zM887.4 54.3L907.2 54.3L897.3 71.4zM896 70.8L915.8 70.8L905.9 87.9zM904.6 91.5L924.4 91.5L914.5 108.6zM913.1 118.2L932.9 118.2L923 135.3zM921.7 149.6L941.5 149.6L931.6 166.7zM930.3 188.6L950.1 188.6L940.2 205.8zM938.8 230.3L958.6 230.3L948.7 247.4zM947.4 276.2L967.2 276.2L957.3 293.3zM956 322.4L975.8 322.4L965.9 339.5zM964.5 368.6L984.3 368.6L974.4 385.7zM973.1 415.1L992.9 415.1L983 432.2z"/>
<polyline fill="none" stroke="#b177de" stroke-width="5.9" stroke-linejoin="round" stroke-linecap="round" points="134.8,691.6 143.4,685 151.9,677.5 160.5,666.6 169.1,653 177.6,637.4 186.2,619.6 194.8,596.5 203.4,574 211.9,545.4 220.5,516.1 229.1,480.7 237.6,446.7 246.2,403.8 254.8,362.9 263.3,315.2 271.9,274.4 280.5,236.2 289,199.5 297.6,168.1 306.2,138.2 314.7,119.1 323.3,104.1 331.9,91.9 340.4,83.7 349,78.3 357.6,75.5 366.1,74.8 374.7,75.3 383.3,76.5 391.8,77.9 400.4,79.4 409,81.1 417.5,83.1 426.1,84.7 434.7,85.7 443.2,86.4 451.8,86.2 460.4,85.4 468.9,84.3 477.5,82.7 486.1,80.5 494.6,78.1 503.2,75.4 511.8,72 520.4,68 528.9,63.7 537.5,59.4 546.1,55.5 554.6,52.1 563.2,48.9 571.8,46 580.3,43.2 588.9,40.6 597.5,38.1 606,35.4 614.6,32.5 623.2,29.9 631.7,28.3 640.3,27.1 648.9,26 657.4,25 666,24.2 674.6,23.6 683.1,23.2 691.7,23.1 700.3,23 708.8,23 717.4,23 726,22.9 734.5,22.9 743.1,22.9 751.7,22.9 760.2,22.8 768.8,22.8 777.4,22.8 785.9,22.8 794.5,22.8 803.1,22.9 811.6,22.9 820.2,23 828.8,23 837.4,23.1 845.9,23.1 854.5,23.2 863.1,25.6 871.6,29.9 880.2,37.1 888.8,47.9 897.3,62.3 905.9,82.9 914.5,107.2 923,138.2 931.6,177.5 940.2,220.4 948.7,268.2 957.3,319.9 965.9,371.9 974.4,423.8 983,472.8"/>
<path fill="#b177de" d="M140.5 681.7L140.5 701.5L123.4 691.6zM149.1 675.1L149.1 694.9L131.9 685zM157.7 667.6L157.7 687.4L140.5 677.5zM166.2 656.7L166.2 676.5L149.1 666.6zM174.8 643.1L174.8 662.9L157.6 653zM183.4 627.5L183.4 647.3L166.2 637.4zM191.9 609.7L191.9 629.5L174.8 619.6zM200.5 586.6L200.5 606.4L183.4 596.5zM209.1 564.1L209.1 583.9L191.9 574zM217.6 535.5L217.6 555.3L200.5 545.4zM226.2 506.2L226.2 526L209.1 516.1zM234.8 470.8L234.8 490.6L217.6 480.7zM243.3 436.8L243.3 456.6L226.2 446.7zM251.9 393.9L251.9 413.7L234.8 403.8zM260.5 353L260.5 372.8L243.3 362.9zM269 305.3L269 325.1L251.9 315.2zM277.6 264.5L277.6 284.3L260.5 274.4zM286.2 226.3L286.2 246.1L269 236.2zM294.7 189.6L294.7 209.4L277.6 199.5zM303.3 158.2L303.3 178L286.2 168.1zM311.9 128.3L311.9 148.1L294.7 138.2zM320.4 109.2L320.4 129L303.3 119.1zM329 94.2L329 114L311.9 104.1zM337.6 82L337.6 101.8L320.4 91.9zM346.1 73.8L346.1 93.6L329 83.7zM354.7 68.4L354.7 88.2L337.6 78.3zM363.3 65.6L363.3 85.4L346.1 75.5zM371.9 64.9L371.9 84.7L354.7 74.8zM380.4 65.4L380.4 85.2L363.3 75.3zM389 66.6L389 86.4L371.8 76.5zM397.6 68L397.6 87.8L380.4 77.9zM406.1 69.5L406.1 89.3L389 79.4zM414.7 71.2L414.7 91L397.5 81.1zM423.3 73.2L423.3 93L406.1 83.1zM431.8 74.8L431.8 94.6L414.7 84.7zM440.4 75.8L440.4 95.6L423.2 85.7zM449 76.5L449 96.3L431.8 86.4zM457.5 76.3L457.5 96.1L440.4 86.2zM466.1 75.5L466.1 95.3L448.9 85.4zM474.7 74.4L474.7 94.2L457.5 84.3zM483.2 72.8L483.2 92.6L466.1 82.7zM491.8 70.6L491.8 90.4L474.6 80.5zM500.4 68.2L500.4 88L483.2 78.1zM508.9 65.5L508.9 85.3L491.8 75.4zM517.5 62.1L517.5 81.9L500.4 72zM526.1 58.1L526.1 77.9L508.9 68zM534.6 53.8L534.6 73.6L517.5 63.7zM543.2 49.5L543.2 69.3L526.1 59.4zM551.8 45.6L551.8 65.4L534.6 55.5zM560.3 42.2L560.3 62L543.2 52.1zM568.9 39L568.9 58.8L551.8 48.9zM577.5 36.1L577.5 55.9L560.3 46zM586 33.3L586 53.1L568.9 43.2zM594.6 30.7L594.6 50.5L577.5 40.6zM603.2 28.2L603.2 48L586 38.1zM611.7 25.5L611.7 45.3L594.6 35.4zM620.3 22.6L620.3 42.4L603.2 32.5zM628.9 20L628.9 39.8L611.7 29.9zM637.4 18.4L637.4 38.2L620.3 28.3zM646 17.2L646 37L628.9 27.1zM654.6 16.1L654.6 35.9L637.4 26zM663.1 15.1L663.1 34.9L646 25zM671.7 14.3L671.7 34.1L654.6 24.2zM680.3 13.7L680.3 33.5L663.1 23.6zM688.9 13.3L688.9 33.1L671.7 23.2zM697.4 13.2L697.4 33L680.3 23.1zM706 13.1L706 32.9L688.8 23zM714.6 13.1L714.6 32.9L697.4 23zM723.1 13.1L723.1 32.9L706 23zM731.7 13L731.7 32.8L714.5 22.9zM740.3 13L740.3 32.8L723.1 22.9zM748.8 13L748.8 32.8L731.7 22.9zM757.4 13L757.4 32.8L740.2 22.9zM766 12.9L766 32.7L748.8 22.8zM774.5 12.9L774.5 32.7L757.4 22.8zM783.1 12.9L783.1 32.7L765.9 22.8zM791.7 12.9L791.7 32.7L774.5 22.8zM800.2 12.9L800.2 32.7L783.1 22.8zM808.8 13L808.8 32.8L791.6 22.9zM817.4 13L817.4 32.8L800.2 22.9zM825.9 13.1L825.9 32.9L808.8 23zM834.5 13.1L834.5 32.9L817.4 23zM843.1 13.2L843.1 33L825.9 23.1zM851.6 13.2L851.6 33L834.5 23.1zM860.2 13.3L860.2 33.1L843.1 23.2zM868.8 15.7L868.8 35.5L851.6 25.6zM877.3 20L877.3 39.8L860.2 29.9zM885.9 27.2L885.9 47L868.8 37.1zM894.5 38L894.5 57.8L877.3 47.9zM903 52.4L903 72.2L885.9 62.3zM911.6 73L911.6 92.8L894.5 82.9zM920.2 97.3L920.2 117.1L903 107.2zM928.7 128.3L928.7 148.1L911.6 138.2zM937.3 167.6L937.3 187.4L920.2 177.5zM945.9 210.5L945.9 230.3L928.7 220.4zM954.4 258.3L954.4 278.1L937.3 268.2zM963 310L963 329.8L945.9 319.9zM971.6 362L971.6 381.8L954.4 371.9zM980.1 413.9L980.1 433.7L963 423.8zM988.7 462.9L988.7 482.7L971.6 472.8z"/>
</g>
<g stroke="#000" stroke-width="2.6" fill="none" stroke-linecap="butt" stroke-linejoin="round">
<rect x="117.5" y="2.3" width="865.5" height="694.3000000000001"/>
<path d="M104 696.6H117.5M104 560.4H117.5M104 424.2H117.5M104 288H117.5M104 151.8H117.5M104 15.6H117.5M117.5 696.6V710M290.6 696.6V710M463.7 696.6V710M636.8 696.6V710M809.9 696.6V710M983 696.6V710"/>
</g>
<text class="tk" x="94" y="708.3" text-anchor="end">0.0</text>
<text class="tk" x="94" y="572.1" text-anchor="end">0.2</text>
<text class="tk" x="94" y="435.9" text-anchor="end">0.4</text>
<text class="tk" x="94" y="299.7" text-anchor="end">0.6</text>
<text class="tk" x="94" y="163.5" text-anchor="end">0.8</text>
<text class="tk" x="94" y="27.3" text-anchor="end">1.0</text>
<text class="tk" x="117.5" y="747.8" text-anchor="middle">0</text>
<text class="tk" x="290.6" y="747.8" text-anchor="middle">1</text>
<text class="tk" x="463.7" y="747.8" text-anchor="middle">2</text>
<text class="tk" x="636.8" y="747.8" text-anchor="middle">3</text>
<text class="tk" x="809.9" y="747.8" text-anchor="middle">4</text>
<text class="tk" x="983" y="747.8" text-anchor="middle">5</text>
<text class="ax" x="550.8" y="799.8" text-anchor="middle">Frequency (THz)</text>
<text class="ax" transform="translate(31.5 349.3) rotate(-90)" text-anchor="middle">Absorptance (a.u. )</text>
<rect x="671.5" y="436.0" width="211.70000000000005" height="226.29999999999995" fill="#fff" stroke="#a6a6a6" stroke-width="1.5"/>
<line x1="676.4" x2="757.2" y1="460.5" y2="460.5" stroke="#0000ff" stroke-width="6.4" stroke-linecap="round"/>
<path fill="#0000ff" d="M708.8 460.5a8.2 8.2 0 1 0 16.4 0a8.2 8.2 0 1 0 -16.4 0z"/>
<text class="lg" x="766.5" y="472.6">θ = 67</text>
<line x1="676.4" x2="757.2" y1="504.9" y2="504.9" stroke="#f03e3e" stroke-width="6.4" stroke-linecap="round"/>
<path fill="#f03e3e" d="M717 495.8L719.2 501.8L725.7 502.1L720.6 506.1L722.3 512.3L717 508.7L711.7 512.3L713.4 506.1L708.3 502.1L714.8 501.8z"/>
<text class="lg" x="766.5" y="517">θ = 60</text>
<line x1="676.4" x2="757.2" y1="549.1" y2="549.1" stroke="#000000" stroke-width="6.4" stroke-linecap="round"/>
<path fill="#000000" d="M709.8 541.9h14.4v14.4h-14.4z"/>
<text class="lg" x="766.5" y="561.2">θ = 40</text>
<line x1="676.4" x2="757.2" y1="593.6" y2="593.6" stroke="#2fa765" stroke-width="6.4" stroke-linecap="round"/>
<path fill="#2fa765" d="M707.1 587.9L726.9 587.9L717 605z"/>
<text class="lg" x="766.5" y="605.7">θ = 20</text>
<line x1="676.4" x2="757.2" y1="637.8" y2="637.8" stroke="#b177de" stroke-width="6.4" stroke-linecap="round"/>
<path fill="#b177de" d="M722.7 627.9L722.7 647.7L705.6 637.8z"/>
<text class="lg" x="766.5" y="649.9">θ = 0</text>
</svg>
</body></html>
